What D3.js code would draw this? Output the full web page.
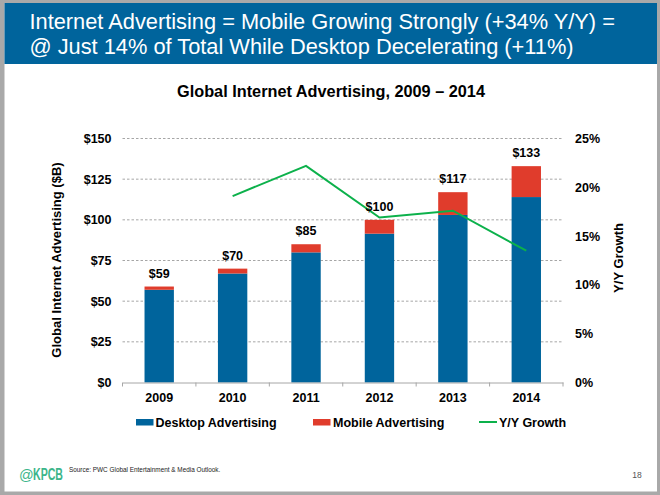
<!DOCTYPE html>
<html>
<head>
<meta charset="utf-8">
<script src="https://cdn.jsdelivr.net/npm/d3@7"></script>
<style>
  html, body { margin: 0; padding: 0; background: #a9a9a9; }
  svg { display: block; font-family: "Liberation Sans", Arial, sans-serif; }
</style>
</head>
<body>
<svg id="chart" width="660" height="495"></svg>
<script>
// values
const years = ['2009', '2010', '2011', '2012', '2013', '2014'];
const desktop = [57, 67, 80, 91.5, 103, 114];
const mobile = [2, 3, 5, 8.5, 14, 19];
const totals = [59, 70, 85, 100, 117, 133];
const growthYears = ['2010', '2011', '2012', '2013', '2014'];
const growth = [19.1, 22.2, 16.9, 17.6, 13.5];
const leftTicks = [0, 25, 50, 75, 100, 125, 150];
const rightTicks = [0, 5, 10, 15, 20, 25];
const titleLines = [
  'Internet Advertising = Mobile Growing Strongly (+34% Y/Y) =',
  '@ Just 14% of Total While Desktop Decelerating (+11%)'
];

const blue = '#00649c', red = '#e03c2c', green = '#0cb14b';

const svg = d3.select('#chart');

// slide background + header
svg.append('rect').attr('x', 4.5).attr('y', 3).attr('width', 652.5).attr('height', 488.5).attr('fill', '#fff');
svg.append('rect').attr('x', 4.5).attr('y', 3).attr('width', 652.5).attr('height', 61).attr('fill', blue);

svg.selectAll('.head').data(titleLines).join('text')
    .attr('class', 'head')
    .attr('x', 29.5)
    .attr('y', (d, i) => 28.5 + i * 25)
    .attr('fill', '#fff')
    .style('font-size', '21.8px')
    .text(d => d);

svg.append('text')
    .attr('x', 331).attr('y', 97)
    .attr('text-anchor', 'middle')
    .style('font-size', '16.3px').style('font-weight', 'bold')
    .text('Global Internet Advertising, 2009 \u2013 2014');

// scales
const margin = { top: 138.5, left: 122.5, right: 563, bottom: 382.5 };
const x = d3.scaleBand().domain(years).range([margin.left, margin.right]).paddingInner(0.6).paddingOuter(0.3);
const y = d3.scaleLinear().domain([0, 150]).range([margin.bottom, margin.top]);
const y2 = d3.scaleLinear().domain([0, 25]).range([margin.bottom, margin.top]);
const cx = d => x(d) + x.bandwidth() / 2;

// gridlines
svg.selectAll('.grid').data(leftTicks.slice(1)).join('line')
    .attr('class', 'grid')
    .attr('x1', margin.left).attr('x2', margin.right)
    .attr('y1', d => y(d)).attr('y2', d => y(d))
    .attr('stroke', '#a6a6a6').attr('stroke-dasharray', '2.5,2');

// stacked bars
svg.selectAll('.desktop').data(years).join('rect')
    .attr('class', 'desktop')
    .attr('x', d => x(d)).attr('width', x.bandwidth())
    .attr('y', (d, i) => y(desktop[i]))
    .attr('height', (d, i) => y(0) - y(desktop[i]))
    .attr('fill', blue);

svg.selectAll('.mobile').data(years).join('rect')
    .attr('class', 'mobile')
    .attr('x', d => x(d)).attr('width', x.bandwidth())
    .attr('y', (d, i) => y(desktop[i] + mobile[i]))
    .attr('height', (d, i) => y(desktop[i]) - y(desktop[i] + mobile[i]))
    .attr('fill', red);

// growth line
const line = d3.line().x((d, i) => cx(growthYears[i])).y(d => y2(d));
svg.append('path')
    .attr('d', line(growth))
    .attr('fill', 'none')
    .attr('stroke', green).attr('stroke-width', 2);

// total labels
svg.selectAll('.total').data(years).join('text')
    .attr('class', 'total')
    .attr('x', d => cx(d))
    .attr('y', (d, i) => y(totals[i]) - 9)
    .attr('text-anchor', 'middle')
    .style('font-size', '12.5px').style('font-weight', 'bold')
    .text((d, i) => '$' + totals[i]);

// axes
const xAxis = svg.append('g')
    .attr('transform', `translate(0,${margin.bottom})`)
    .call(d3.axisBottom(x).tickSize(0).tickPadding(11));
xAxis.select('.domain').attr('stroke', '#a6a6a6').attr('stroke-width', 1);
xAxis.selectAll('text').style('font-size', '12.5px').style('font-weight', 'bold')
    .style('font-family', 'Liberation Sans').attr('fill', '#000');

// small ticks between the categories
const step = x.step();
svg.selectAll('.sep').data(years.concat('end')).join('line')
    .attr('class', 'sep')
    .attr('x1', (d, i) => margin.left + i * step).attr('x2', (d, i) => margin.left + i * step)
    .attr('y1', margin.bottom).attr('y2', margin.bottom + 4)
    .attr('stroke', '#a6a6a6');

const yAxis = svg.append('g')
    .attr('transform', `translate(${margin.left},0)`)
    .call(d3.axisLeft(y).tickValues(leftTicks).tickFormat(d => '$' + d).tickSize(0).tickPadding(11));
yAxis.select('.domain').remove();
yAxis.selectAll('text').style('font-size', '12.5px').style('font-weight', 'bold')
    .style('font-family', 'Liberation Sans').attr('fill', '#000');

const yAxisRight = svg.append('g')
    .attr('transform', `translate(${margin.right},0)`)
    .call(d3.axisRight(y2).tickValues(rightTicks).tickFormat(d => d + '%').tickSize(0).tickPadding(12));
yAxisRight.select('.domain').remove();
yAxisRight.selectAll('text').style('font-size', '12.5px').style('font-weight', 'bold')
    .style('font-family', 'Liberation Sans').attr('fill', '#000');

// axis titles
svg.append('text')
    .attr('transform', 'translate(61,260) rotate(-90)')
    .attr('text-anchor', 'middle')
    .style('font-size', '13px').style('font-weight', 'bold')
    .text('Global Internet Advertising ($B)');

svg.append('text')
    .attr('transform', 'translate(623,258) rotate(-90)')
    .attr('text-anchor', 'middle')
    .style('font-size', '13px').style('font-weight', 'bold')
    .text('Y/Y Growth');

// legend
const legend = svg.append('g').style('font-size', '12.5px').style('font-weight', 'bold');
legend.append('rect').attr('x', 136).attr('y', 419).attr('width', 17.5).attr('height', 6.5).attr('fill', blue);
legend.append('text').attr('x', 155.5).attr('y', 426.5).text('Desktop Advertising');
legend.append('rect').attr('x', 313).attr('y', 419).attr('width', 17.5).attr('height', 6.5).attr('fill', red);
legend.append('text').attr('x', 333).attr('y', 426.5).text('Mobile Advertising');
legend.append('line').attr('x1', 479).attr('x2', 497).attr('y1', 422).attr('y2', 422)
    .attr('stroke', green).attr('stroke-width', 2);
legend.append('text').attr('x', 499).attr('y', 426.5).text('Y/Y Growth');

// footer
svg.append('text').attr('x', 19).attr('y', 479.5)
    .attr('fill', '#3cb58a')
    .style('font-size', '14.5px')
    .text('@');
svg.append('text').attr('x', 33).attr('y', 480)
    .attr('fill', '#3cb58a')
    .attr('textLength', 30).attr('lengthAdjust', 'spacingAndGlyphs')
    .style('font-family', '"Liberation Sans Narrow", "Liberation Sans"')
    .style('font-size', '16px').style('font-weight', 'bold')
    .text('KPCB');
svg.append('text').attr('x', 69).attr('y', 471.5)
    .style('font-size', '6.4px').attr('fill', '#222')
    .text('Source: PWC Global Entertainment & Media Outlook.');
svg.append('text').attr('x', 637).attr('y', 478)
    .attr('text-anchor', 'middle')
    .style('font-size', '8.5px').attr('fill', '#555')
    .text('18');
</script>
</body>
</html>
